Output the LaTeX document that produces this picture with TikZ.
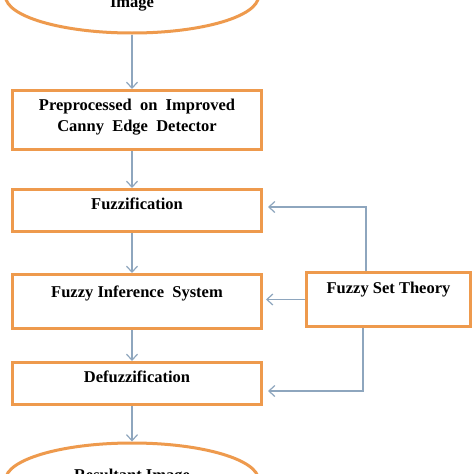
\documentclass[tikz,border=0pt]{standalone}
\usepackage{fontspec}
\setmainfont{Liberation Serif}
\usetikzlibrary{arrows.meta,shapes.geometric}
\definecolor{boxor}{HTML}{EE9A4D}
\definecolor{arr}{HTML}{8EA6BE}
\begin{document}
\begin{tikzpicture}[x=1pt,y=-1pt,
  stepbox/.style={draw=boxor, line width=3pt, rectangle, minimum width=249pt, inner sep=0pt},
  oval/.style={draw=boxor, line width=3pt, ellipse, minimum width=253pt, minimum height=74pt, inner sep=0pt},
  lbl/.style={font=\bfseries\fontsize{16.5}{21}\selectfont, align=center, inner sep=0pt},
  conn/.style={draw=arr, line width=1.2pt, -{Straight Barb[length=6pt,width=11pt]}}]
\useasboundingbox (0,0) rectangle (474,474);
\clip (0,0) rectangle (474,474);
\fill[white] (0,0) rectangle (474,474);
% shapes
\node[oval] (e1) at (132,-4) {};
\node[lbl, anchor=base] (t0) at (132,7) {Image};
\node[stepbox, minimum height=59pt] (b1) at (137,120) {};
\node[lbl] (t1) at (137,117.5) {Preprocessed\ \ on\ \ Improved\\Canny\ \ Edge\ \ Detector};
\node[stepbox, minimum height=42pt] (b2) at (137,210.5) {};
\node[lbl] (t2) at (137,204) {Fuzzification};
\node[stepbox, minimum height=54pt] (b3) at (137,301.5) {};
\node[lbl] (t3) at (137,293) {Fuzzy Inference\ \ System};
\node[stepbox, minimum height=42pt] (b4) at (137,383.5) {};
\node[lbl] (t4) at (137,377) {Defuzzification};
\node[draw=boxor, line width=3pt, rectangle, minimum width=164pt, minimum height=54pt, inner sep=0pt] (fst) at (388.5,299.5) {};
\node[lbl] (t5) at (388.5,290) {Fuzzy Set Theory};
\node[oval] (e2) at (132,480) {};
\node[lbl, anchor=base] (t6) at (132,480) {Resultant Image};
% connectors
\coordinate (j1) at (366,207);
\coordinate (j2) at (363,391);
\draw[conn] (e1.south) -- (e1.south |- b1.north);
\draw[conn] (e1.south |- b1.south) -- (e1.south |- b2.north);
\draw[conn] (e1.south |- b2.south) -- (e1.south |- b3.north);
\draw[conn] (e1.south |- b3.south) -- (e1.south |- b4.north);
\draw[conn] (e1.south |- b4.south) -- (e2.north);
\draw[conn, shorten >=3pt] (fst.west) -- (fst.west -| b3.east);
\draw[conn] (fst.north -| j1) |- ([xshift=5pt]b2.east |- j1);
\draw[conn] (fst.south -| j2) |- ([xshift=5pt]b4.east |- j2);
\end{tikzpicture}
\end{document}
